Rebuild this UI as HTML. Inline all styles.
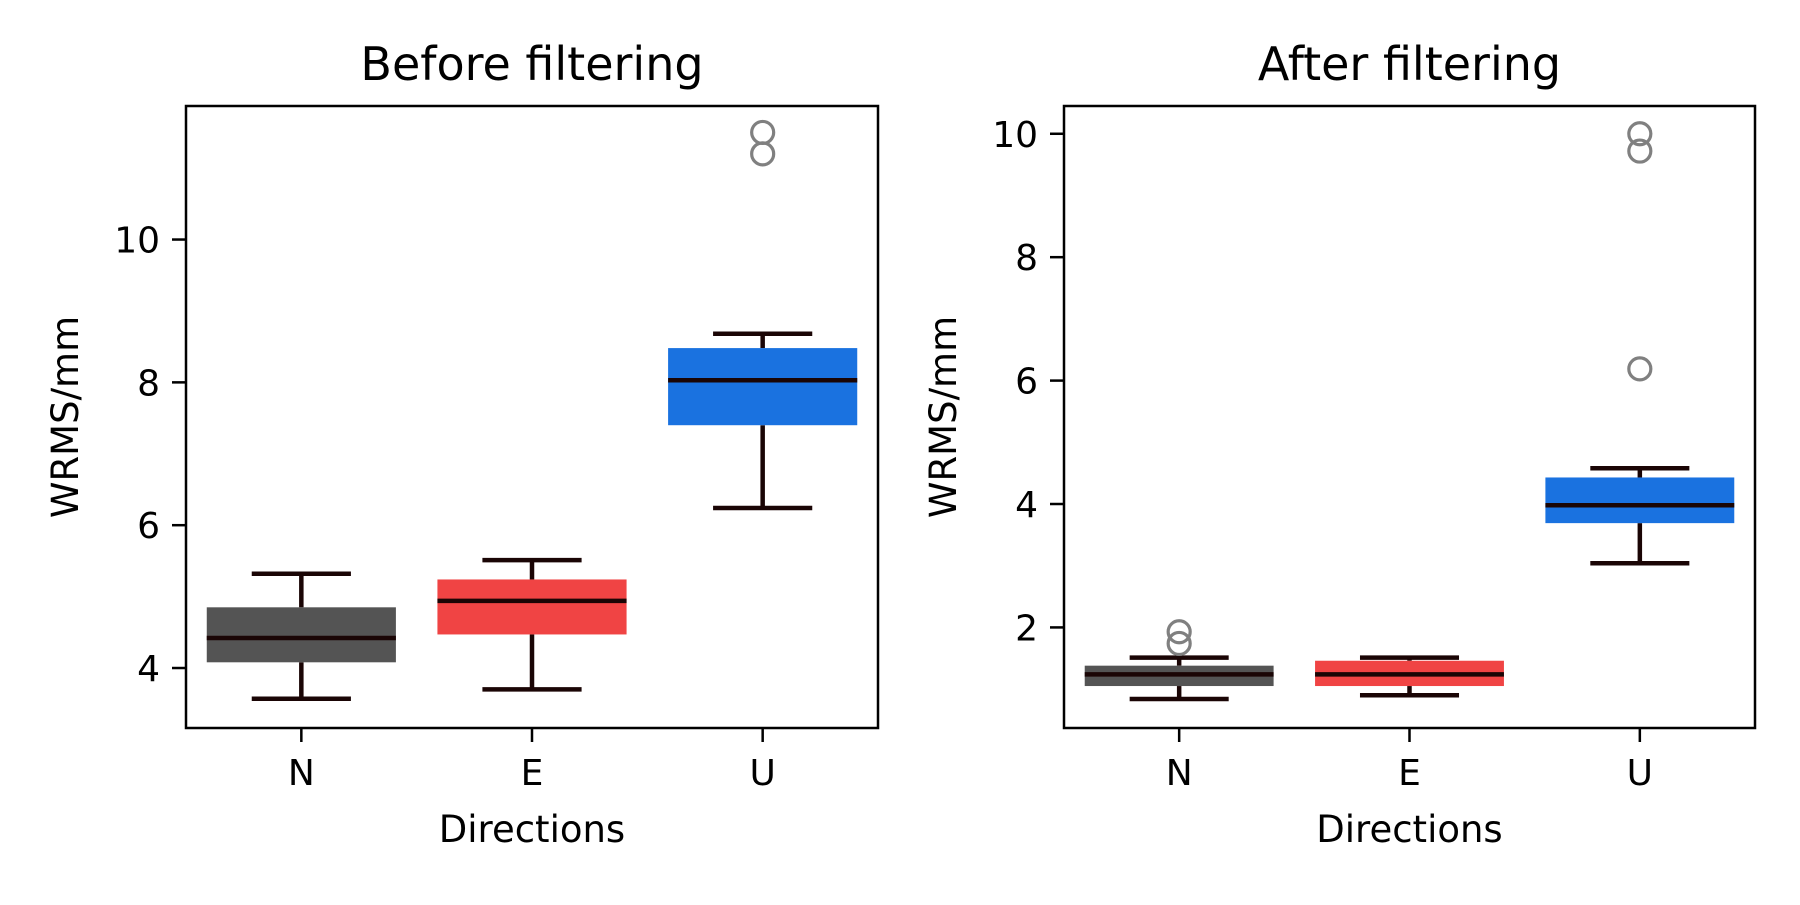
<!DOCTYPE html>
<html><head><meta charset="utf-8"><style>
html,body{margin:0;padding:0;background:#fff;}
svg text{font-family:"DejaVu Sans","Liberation Sans",sans-serif;fill:#000;}
</style></head><body>
<svg id="chart" width="1800" height="900" viewBox="0 0 1800 900" xmlns="http://www.w3.org/2000/svg"></svg>
<script>
const categories = ["N","E","U"];
const colors = ["#545454","#f04444","#1a72e0"];
// before filtering: [lowWhisker, q1, median, q3, highWhisker]
const beforeStats = [[3.57,4.08,4.42,4.85,5.32],[3.70,4.47,4.94,5.24,5.51],[6.24,7.40,8.03,8.48,8.68]];
const beforeOutliers = [[],[],[11.2,11.5]];
const beforeTicks = [4,6,8,10];
const afterStats = [[0.84,1.05,1.24,1.38,1.51],[0.90,1.05,1.24,1.46,1.51],[3.04,3.69,3.98,4.43,4.58]];
const afterOutliers = [[1.74,1.93],[],[6.19,9.72,10.0]];
const afterTicks = [2,4,6,8,10];

const NS="http://www.w3.org/2000/svg";
const svg=document.getElementById('chart');
function el(tag,attrs,parent){const e=document.createElementNS(NS,tag);for(const k in attrs)e.setAttribute(k,attrs[k]);(parent||svg).appendChild(e);return e;}
const LW=4.5;
function panel(x0,x1,y0,y1,ymin,ymax,stats,outs,ticks,title,key){
  const g=el('g',{});
  
  
  const yS=v=>y1-(v-ymin)/(ymax-ymin)*(y1-y0);
  const sp=(x1-x0)/categories.length;
  const xS=i=>x0+(i+0.5)*sp;
  categories.forEach((c,i)=>{
    const s=stats[i],cx=xS(i),bw=sp*0.82,cw=sp*0.43;
    const w1=el('line',{x1:cx,x2:cx,y1:yS(s[0]),y2:yS(s[1]),stroke:'#1a0505','stroke-width':LW},g);
    
    
    const w2=el('line',{x1:cx,x2:cx,y1:yS(s[3]),y2:yS(s[4]),stroke:'#1a0505','stroke-width':LW},g);
    
    
    [s[0],s[4]].forEach(v=>{
      const cap=el('line',{x1:cx-cw/2,x2:cx+cw/2,y1:yS(v),y2:yS(v),stroke:'#1a0505','stroke-width':LW},g);
      
      
    });
    const b=el('rect',{x:cx-bw/2,y:yS(s[3]),width:bw,height:yS(s[1])-yS(s[3]),fill:colors[i]},g);
    
    
    const m=el('line',{x1:cx-bw/2,x2:cx+bw/2,y1:yS(s[2]),y2:yS(s[2]),stroke:'#1a0505','stroke-width':LW},g);
    
    
    outs[i].forEach(v=>{
      const o=el('circle',{cx:cx,cy:yS(v),r:11,fill:'none',stroke:'#808080','stroke-width':3.2},g);
      
      
    });
    el('line',{x1:cx,x2:cx,y1:y1,y2:y1+14,stroke:'#000','stroke-width':2.5},g);
    const t=el('text',{x:cx,y:y1+57,'font-size':36,'text-anchor':'middle'},g);
    t.textContent=c;
    
    
  });
  ticks.forEach(v=>{
    el('line',{x1:x0-14,x2:x0,y1:yS(v),y2:yS(v),stroke:'#000','stroke-width':2.5},g);
    const t=el('text',{x:x0-26,y:yS(v)+13,'font-size':36,'text-anchor':'end'},g);
    t.textContent=v;
    
    
  });
  const fr=el('rect',{x:x0,y:y0,width:x1-x0,height:y1-y0,fill:'none',stroke:'#000','stroke-width':2.5},g);
  
  
  const ti=el('text',{x:(x0+x1)/2,y:80,'font-size':46,'text-anchor':'middle'},g);
  ti.textContent=title;
  
  
  const xl=el('text',{x:(x0+x1)/2,y:842,'font-size':37,'text-anchor':'middle'},g);
  xl.textContent='Directions';
  
  
  const yl=el('text',{x:0,y:0,'font-size':37,'text-anchor':'middle',transform:`translate(${x0-108},${(y0+y1)/2}) rotate(-90)`},g);
  yl.textContent='WRMS/mm';
  
  
}
panel(186,878,106,728,3.16,11.87,beforeStats,beforeOutliers,beforeTicks,'Before filtering','before');
panel(1064,1755,106,728,0.37,10.45,afterStats,afterOutliers,afterTicks,'After filtering','after');
</script>
</body></html>
